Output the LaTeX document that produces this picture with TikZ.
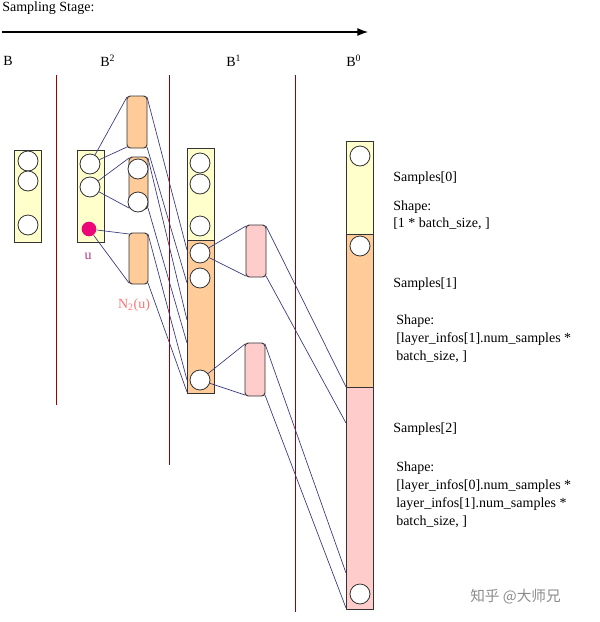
\documentclass[tikz,border=0pt]{standalone}
\usepackage{fontspec}
\usetikzlibrary{arrows.meta}
\setmainfont{Liberation Serif}
\newfontfamily\cjk{Noto Sans CJK SC}
\begin{document}
\begin{tikzpicture}[x=0.75pt,y=-0.75pt,
  lbl/.style={anchor=west,inner sep=0,font=\fontsize{10.5}{13}\selectfont},
  col/.style={draw=black!80,line width=0.7pt},
  rbox/.style={draw=black!80,line width=0.7pt,rounded corners=2.5pt},
  circ/.style={circle,draw=black!80,fill=white,line width=0.6pt,minimum size=15pt,inner sep=0},
  conn/.style={draw=gray!60!blue!70!black,line width=0.5pt},
  sep/.style={draw=red!60!black,line width=0.6pt}]
\definecolor{yel}{HTML}{FFFFCC}
\definecolor{ora}{HTML}{FFCC99}
\definecolor{pnk}{HTML}{FFCCCC}
\useasboundingbox (0,0) rectangle (600,622);
% header
\node[lbl] (title) at (2,8) {Sampling Stage:};
\coordinate (a0) at (2,32); \coordinate (a1) at (368,32);
\draw[-{Latex[length=8pt,width=6pt]},line width=0.8pt] (a0) -- (a1);
\node[lbl] (lB) at (3,61) {B};
\node[lbl] (lB2) at (100,61) {B\textsuperscript{2}};
\node[lbl] (lB1) at (226,61) {B\textsuperscript{1}};
\node[lbl] (lB0) at (346,61) {B\textsuperscript{0}};
% separators
\draw[sep] (56,75) -- (56,405);
\draw[sep] (169,75) -- (169,465);
\draw[sep] (295,75) -- (295,612);
% B column
\filldraw[col,fill=yel] (14,150) rectangle (41,242);
\node[circ] (b1) at (28,161) {}; \node[circ] (b2) at (28,181) {}; \node[circ] (b3) at (28,225) {};
% B2 column
\filldraw[col,fill=yel] (77,150) rectangle (104,242);
\node[circ] (c1) at (90,164) {}; \node[circ] (c2) at (90,187) {};
\node[circle,fill=magenta!80!red,minimum size=11pt,inner sep=0] (u) at (89,229) {};
\node[inner sep=0,text=magenta!70!black,font=\fontsize{10.5}{13}\selectfont] (ul) at (88,256) {u};
\node[inner sep=0,text=red!40!pink,font=\fontsize{10.5}{13}\selectfont] (nl) at (134,305) {N\textsubscript{2}(u)};
% hop-1 boxes
\filldraw[rbox,fill=ora] (127,96) rectangle (147,148);
\coordinate (o1tl) at (127,97); \coordinate (o1bl) at (127,147);
\coordinate (o1tr) at (147,97); \coordinate (o1br) at (147,147);
\filldraw[rbox,fill=ora] (129,157) rectangle (148,209);
\coordinate (o2tl) at (129,158); \coordinate (o2bl) at (129,208);
\coordinate (o2tr) at (148,158); \coordinate (o2br) at (148,208);
\node[circ] (d1) at (138,169) {}; \node[circ] (d2) at (138,202) {};
\filldraw[rbox,fill=ora] (129,233) rectangle (148,284);
\coordinate (o3tl) at (129,234); \coordinate (o3bl) at (129,283);
\coordinate (o3tr) at (148,234); \coordinate (o3br) at (148,283);
% B1 column
\filldraw[col,fill=yel] (187,148) rectangle (214,240);
\filldraw[col,fill=ora] (187,240) rectangle (214,393);
\foreach \n/\y in {e1/163,e2/184,e3/226,e4/253,e5/278,e6/380} \node[circ] (\n) at (200,\y) {};
\foreach \n/\y in {k1/250,k2/283,k3/320,k4/343,k5/380,k6/392} \coordinate (\n) at (187,\y);
% pink boxes
\filldraw[rbox,fill=pnk] (246,225) rectangle (266,277);
\coordinate (p1tl) at (246,226); \coordinate (p1bl) at (246,276);
\coordinate (p1tr) at (266,226); \coordinate (p1br) at (266,276);
\filldraw[rbox,fill=pnk] (245,343) rectangle (265,396);
\coordinate (p2tl) at (245,344); \coordinate (p2bl) at (245,395);
\coordinate (p2tr) at (265,344); \coordinate (p2br) at (265,395);
% B0 column
\filldraw[col,fill=yel] (346,141) rectangle (373,234);
\filldraw[col,fill=ora] (346,234) rectangle (373,387);
\filldraw[col,fill=pnk] (346,387) rectangle (373,609);
\node[circ] (f1) at (360,156) {}; \node[circ] (f2) at (360,246) {}; \node[circ] (f3) at (360,594) {};
\foreach \n/\y in {m1/387,m2/423,m3/573,m4/608} \coordinate (\n) at (346,\y);
% connectors
\draw[conn] (c1) -- (o1tl); \draw[conn] (c1) -- (o1bl);
\draw[conn] (c2) -- (o2tl); \draw[conn] (c2) -- (o2bl);
\draw[conn] (u) -- (o3tl); \draw[conn] (u) -- (o3bl);
\draw[conn] (o1tr) -- (k1); \draw[conn] (o1br) -- (k2);
\draw[conn] (o2tr) -- (k3); \draw[conn] (o2br) -- (k4);
\draw[conn] (o3tr) -- (k5); \draw[conn] (o3br) -- (k6);
\draw[conn] (e4) -- (p1tl); \draw[conn] (e4) -- (p1bl);
\draw[conn] (e6) -- (p2tl); \draw[conn] (e6) -- (p2bl);
\draw[conn] (p1tr) -- (m1); \draw[conn] (p1br) -- (m2);
\draw[conn] (p2tr) -- (m3); \draw[conn] (p2br) -- (m4);
% texts
\node[lbl] (s0) at (393,178) {Samples[0]};
\node[lbl] (h0) at (393,207) {Shape:};
\node[lbl] (v0) at (393,224) {[1 * batch\_size, ]};
\node[lbl] (s1) at (393,284) {Samples[1]};
\node[lbl] (h1) at (396,321) {Shape:};
\node[lbl] (v1) at (396,339) {[layer\_infos[1].num\_samples *};
\node[lbl] (v1b) at (396,357) {batch\_size, ]};
\node[lbl] (s2) at (393,429) {Samples[2]};
\node[lbl] (h2) at (396,468) {Shape:};
\node[lbl] (v2) at (396,486) {[layer\_infos[0].num\_samples *};
\node[lbl] (v2b) at (396,504) {layer\_infos[1].num\_samples *};
\node[lbl] (v2c) at (396,522) {batch\_size, ]};
\node[lbl,text=black!45,font=\cjk\fontsize{11}{13}\selectfont] (wm) at (470,597) {知乎 @大师兄};
\end{tikzpicture}
\end{document}
